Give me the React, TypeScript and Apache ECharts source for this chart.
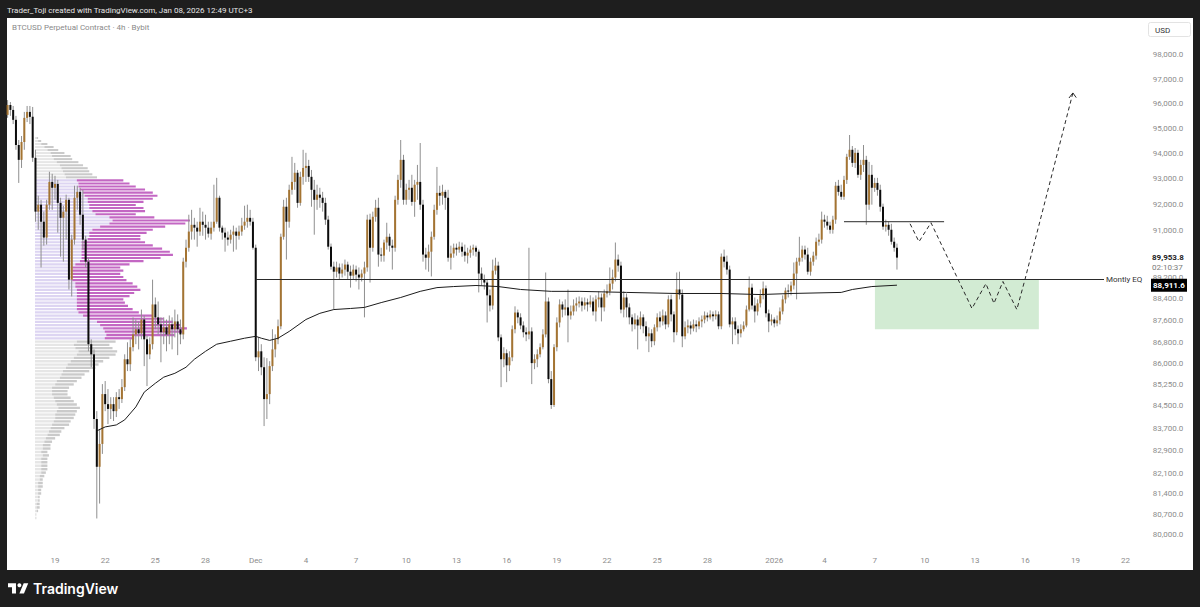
import React, { useEffect, useRef } from "react";
import * as echarts from "echarts";

// ---------- DATA ----------
const firstCandleUTC = Date.UTC(2025, 10, 16, 4); // Nov 16 2025, 04:00
const slotHours = 4;
const slotCount = 408; // candles + empty future space

const opens = [
  95550,95950,95750,95350,94340,93750,94460,95430,95670,95470,
  93830,91720,91990,91330,90720,91990,92880,92650,92800,92060,
  91480,91720,92180,89120,90640,92260,92490,91600,90640,89800,
  86720,86350,84020,82340,83140,84910,84550,84380,84550,84300,
  84800,84730,85160,86170,85990,86610,87080,87270,87120,87630,
  86900,86350,86720,88190,87710,87450,87160,87340,87080,87450,
  87270,87560,87270,87080,89800,90330,90950,91210,91100,90950,
  91330,91210,91100,90870,91100,91330,92260,91100,90910,90720,
  90640,90830,90950,90790,90950,91180,91330,91480,91330,90330,
  86240,86460,85880,84730,84910,85920,86530,86900,87380,90750,
  91910,91330,92570,92880,93240,92060,93080,93430,93510,93080,
  92570,92180,92380,92260,92060,91410,90370,89610,89420,89580,
  89350,89500,89690,89420,89270,89500,89310,89200,89350,89580,
  91410,90330,91520,91870,90070,90030,90530,90750,90410,90330,
  92180,92960,93750,92180,92570,92650,92100,92770,92880,91990,
  90070,89950,90180,90750,91790,92450,92340,92490,92260,89950,
  90110,90330,90260,90370,90180,90030,90140,90260,90330,90180,
  89350,89120,89010,88530,88150,89460,89650,86970,86170,86390,
  85950,86240,87270,87890,87710,87410,87160,87080,87190,86030,
  86170,86350,86610,87080,88300,85450,84520,86610,87520,88190,
  88000,88080,87780,87930,88150,88230,88300,88150,88270,88190,
  88300,87930,88380,88450,88080,88600,88680,88970,89200,89880,
  89650,88000,88450,88080,87710,87450,87630,87410,87710,87380,
  87010,87120,86830,87340,87710,87560,87780,87450,88380,87820,
  87160,88750,88560,87010,87340,87410,87300,87450,87380,87560,
  87630,87780,87710,87820,87750,87820,87380,89990,89800,89500,
  87450,87560,87270,87120,87270,87410,88000,88820,88150,87930,
  88230,88530,88790,87860,87560,87630,87490,87600,87930,88380,
  88710,88680,88900,89350,89800,89950,90260,90070,89420,89800,
  90030,90560,90640,91410,91330,91180,91020,91410,92730,92490,
  92300,92960,93870,94150,93630,94030,93160,93550,93750,91990,
  93160,92650,92840,92570,91910,91140,91210,91020,90560,90330,
];
const highs = [
  96150,96070,95910,95510,94540,94700,95670,95910,95910,95870,
  94150,92340,92180,91720,92180,93280,93200,93120,92960,92260,
  91950,92380,92260,90830,92730,92730,92650,92570,90790,89950,
  86900,86530,84300,83670,85270,85380,85090,84800,84800,84980,
  85090,85450,86350,86790,86900,87710,87630,87560,88000,87780,
  87050,86970,89120,88450,88300,87710,87710,87630,87780,87710,
  88000,87820,87630,89950,90640,91600,91790,91480,91330,91870,
  91720,91600,91330,91330,92770,93040,92340,91180,91100,90950,
  91020,91180,91100,91180,91480,91950,91990,91790,91480,90450,
  86970,86720,86240,86210,86100,87270,87080,87630,90870,92180,
  92260,92770,93870,93630,93350,93280,94150,94030,93750,93350,
  92960,92770,92650,92490,92260,91560,90490,89800,89800,89730,
  89730,89880,89800,89650,89690,89650,89580,89500,89800,91600,
  91640,91720,92180,92260,90330,90640,91290,90870,90640,92340,
  93160,94540,93950,92810,92960,93160,92960,93550,94420,92180,
  90330,90450,90950,91990,93470,92730,92770,92570,92570,90410,
  90490,90490,90560,90530,90450,90330,90410,90450,90410,90260,
  89580,89310,89120,88750,89880,89950,89800,87080,86610,86530,
  86460,87410,88120,88000,87860,87560,87340,90330,87340,86350,
  86530,86750,87270,89390,88450,85740,86720,87710,88380,88300,
  88380,88750,88150,88380,88450,88490,88450,88450,88410,88530,
  88450,88530,88680,88600,88750,88940,89580,89500,90530,90070,
  89800,88680,88600,88230,87820,87860,87780,87930,87820,87560,
  87340,87270,87450,87860,87930,88000,87930,88530,88560,87930,
  89390,89420,88750,87560,87630,87560,87630,87600,87710,87780,
  87930,87890,87970,87930,87970,87930,90110,90260,90030,89650,
  87710,87710,87410,87450,87560,88150,89240,88970,88450,88380,
  88750,89050,88900,88000,87820,87710,87780,88080,88530,88820,
  88940,89050,89770,89950,90750,90410,90410,90330,89950,90180,
  90720,90870,91720,91600,91560,91330,91560,92880,92960,92770,
  93120,93990,94740,94300,94220,94150,93750,94340,93910,93670,
  93550,93040,93040,92770,92030,91410,91330,91250,90720,90490,
];
const lows = [
  95430,95510,95180,94150,92840,93430,94150,95260,95180,93670,
  91330,91020,89580,90410,90450,91790,91790,92180,90910,89990,
  89800,90640,88750,88490,90450,91790,91210,90260,89580,86460,
  85880,83670,80560,81070,82790,84300,83840,84020,83950,84090,
  84380,84590,85020,85740,85740,86460,86720,86530,86900,85920,
  85200,86170,86530,87270,87080,86060,86720,86460,86720,86530,
  86970,86320,86720,86900,89580,90180,90640,90640,90370,90790,
  90790,90640,90720,90640,90950,91250,90950,90640,90180,90410,
  90490,90180,90260,90640,90790,91020,91100,91180,90260,86100,
  85740,85590,83770,84020,84550,85740,86240,86720,87270,90640,
  89880,91100,92380,92570,91870,91950,92770,92880,92880,91910,
  90830,91790,91870,91720,91210,90260,89500,88000,89200,89120,
  89200,89270,89120,88820,89120,89050,88750,89050,87710,89420,
  89010,90180,91330,89610,89800,89800,90260,90180,89500,90180,
  91990,92650,91990,91990,92180,91950,91520,92180,91790,89800,
  89500,89420,89240,90640,91600,91950,91990,91790,89800,89500,
  89950,90030,90140,89990,89800,89730,89950,90030,89990,88640,
  88900,88750,87520,87930,88000,89310,86830,85160,85880,85340,
  85740,86100,87120,87490,87270,86970,86830,86900,85270,85810,
  85880,86240,86530,86970,85300,84380,84450,86460,87340,87710,
  87780,86790,87630,87780,87930,88080,87930,88000,87930,88080,
  87780,87560,88080,87560,87930,88450,88530,88750,89050,89420,
  87860,87710,87710,87450,87190,87270,86530,87270,87120,86830,
  86430,86610,86680,87190,87340,87410,87270,87340,87560,86790,
  87050,88380,86610,86900,87120,87080,87190,87160,87270,87340,
  87490,87560,87630,87560,87630,87270,87270,89580,89310,87340,
  86720,87050,86720,86970,87190,87340,87930,88000,87520,87780,
  88080,88380,87710,87160,87410,87340,87380,87450,87820,88230,
  88450,88530,88750,88380,89650,89800,89880,89310,89270,89650,
  89880,90410,90490,91100,91020,90870,90870,91250,92340,92180,
  92180,92800,93750,93470,93430,93040,92960,93270,91210,91790,
  91990,92490,92340,91720,91020,90950,90790,90450,90180,89500,
];
const closes = [
  95950,95750,95350,94340,93750,94460,95430,95670,95470,93830,
  91720,91990,91330,90720,91990,92880,92650,92800,92060,91480,
  91720,92180,89120,90640,92260,92490,91600,90640,89800,86720,
  86350,84020,82340,83140,84910,84550,84380,84550,84300,84800,
  84730,85160,86170,85990,86610,87080,87270,87120,87630,86900,
  86350,86720,88190,87710,87450,87160,87340,87080,87450,87270,
  87560,87270,87080,89800,90330,90950,91210,91100,90950,91330,
  91210,91100,90870,91100,91330,92260,91100,90910,90720,90640,
  90830,90950,90790,90950,91180,91330,91480,91330,90330,86240,
  86460,85880,84730,84910,85920,86530,86900,87380,90750,91910,
  91330,92570,92880,93240,92060,93080,93430,93510,93080,92570,
  92180,92380,92260,92060,91410,90370,89610,89420,89580,89350,
  89500,89690,89420,89270,89500,89310,89200,89350,89580,91410,
  90330,91520,91870,90070,90030,90530,90750,90410,90330,92180,
  92960,93750,92180,92570,92650,92100,92770,92880,91990,90070,
  89950,90180,90750,91790,92450,92340,92490,92260,89950,90110,
  90330,90260,90370,90180,90030,90140,90260,90330,90180,89350,
  89120,89010,88530,88150,89460,89650,86970,86170,86390,85950,
  86240,87270,87890,87710,87410,87160,87080,87190,86030,86170,
  86350,86610,87080,88300,85450,84520,86610,87520,88190,88000,
  88080,87780,87930,88150,88230,88300,88150,88270,88190,88300,
  87930,88380,88450,88080,88600,88680,88970,89200,89880,89650,
  88000,88450,88080,87710,87450,87630,87410,87710,87380,87010,
  87120,86830,87340,87710,87560,87780,87450,88380,87820,87160,
  88750,88560,87010,87340,87410,87300,87450,87380,87560,87630,
  87780,87710,87820,87750,87820,87380,89990,89800,89500,87450,
  87560,87270,87120,87270,87410,88000,88820,88150,87930,88230,
  88530,88790,87860,87560,87630,87490,87600,87930,88380,88710,
  88680,88900,89350,89800,89950,90260,90070,89420,89800,90030,
  90560,90640,91410,91330,91180,91020,91410,92730,92490,92300,
  92960,93870,94150,93630,94030,93160,93550,93750,91990,93160,
  92650,92840,92570,91910,91140,91210,91020,90560,90330,89953.8,
];

const priceTicks = [80000, 80700, 81400, 82100, 82900, 83700, 84500, 85250, 86000, 86800, 87600, 88400, 89200, 91000, 92000, 93000, 94000, 95000, 96000, 97000, 98000];

// anchored VWAP readings (candle index -> price)
const vwapSlots = [32,35,39,42,46,49,53,56,60,64,67,71,75,80,85,89,91,94,97,101,107,112,117,123,128,134,141,148,154,160,168,176,184,195,205,222,240,256,270,281,299,303,310,319];
const vwapValues = [83600,83740,83810,83990,84450,84980,85300,85520,85660,85880,86170,86460,86720,86830,86940,87010,86940,86860,86940,87190,87630,87860,88000,88040,88080,88260,88450,88680,88820,88860,88900,88860,88750,88680,88680,88640,88600,88600,88560,88600,88640,88750,88860,88911.6];

// volume profile (rows of equal price height, relative volume)
const profileBase = 80500;
const profileStep = 120;
const valueAreaLow = 86860;
const valueAreaHigh = 92980;
const profileLight = [1,1,1,1,1,2,2,2,2,2, 2,3,3,4,4,4,4,4,5,4, 5,5,6,7,8,9,10,11,12,13, 13,14,15,14,13,12,11,11,11,13, 14,16,17,18,20,21,23,25,27,28, 26,25,27,45,46,45,44,42,40,35, 31,28,27,27,27,27,27,27,27,26, 26,24,24,24,24,24,26,29,30,30, 30,30,30,30,34,35,35,37,42,48, 50,48,39,37,35,35,34,34,32,31, 29,28,28,27,20,19,18,17,16,14, 12,11,10,8,6,4,2,1];
const profileDark = [0,0,1,2,2,1,1,2,2,3, 3,2,3,3,4,4,4,4,4,4, 5,5,5,6,8,8,9,11,11,12, 13,13,14,13,12,11,10,10,11,12, 13,14,15,17,19,20,21,23,25,25, 24,23,25,19,44,50,54,52,49,48, 45,39,36,33,31,30,34,37,41,40, 37,35,33,31,33,31,35,41,51,59, 57,52,46,41,34,33,37,39,42,49, 50,29,26,34,35,30,36,42,47,45, 42,37,33,30,20,18,17,17,15,14, 12,12,9,7,6,4,2,1];

// drawings
const monthlyEq = 89125;
const eqStartSlot = 89;
const shelfPrice = 91330;
const shelfSlots = [300, 335.9];
const zoneTop = 89125;
const zoneBottom = 87266;
const zoneSlots = [311.1, 369.9];
const projSlots = [323.7, 326.9, 331.2, 345.9, 350.9, 353.8, 357.0, 362.0, 364.9, 382.1];
const projPrices = [91250, 90560, 91290, 88040, 88970, 88230, 89050, 88000, 89120, 96440];
const arrowSlots = [380.7, 382.1, 383.3];
const arrowPrices = [96234, 96440, 96250];

const lastPrice = 89953.8;
const countdown = "02:10:37";
const vwapLast = 88911.6;

const MONTHS = ["Jan","Feb","Mar","Apr","May","Jun","Jul","Aug","Sep","Oct","Nov","Dec"];

// ---------- HELPERS ----------
const L = Math.log;
const FONT = "Roboto, 'Noto Sans', sans-serif";
const fmtPrice = (p: number) =>
  p.toLocaleString("en-US", { minimumFractionDigits: 1, maximumFractionDigits: 1 });

function slotLabel(i: number): string {
  const d = new Date(firstCandleUTC + i * slotHours * 3600 * 1000);
  const h = d.getUTCHours();
  const day = d.getUTCDate();
  const m = d.getUTCMonth();
  if (h !== 0 || day % 3 !== 1 || day >= 31) return "";
  if (day === 1 && m === 0) return String(d.getUTCFullYear());
  if (day === 1) return MONTHS[m];
  return String(day);
}

export default function App() {
  const ref = useRef<HTMLDivElement>(null);

  useEffect(() => {
    if (!ref.current) return;
    const chart = echarts.init(ref.current, null, { renderer: "svg" });

    const gridLeft = 6.2;
    const gridRight = 56.3;
    const gridTop = 18;
    const gridBottom = 61;
    const yMax = L(99545);
    const yMin = L(79628);

    const categories: string[] = [];
    for (let i = 0; i < slotCount; i++) categories.push("s" + i);
    const labelOf = (v: string) => slotLabel(Number(v.slice(1)));

    const candleData = opens.map((o, i) => [i, L(o), L(closes[i]), L(lows[i]), L(highs[i])]);

    const vwapData: (number | null)[] = new Array(slotCount).fill(null);
    vwapSlots.forEach((s, k) => (vwapData[s] = L(vwapValues[k])));

    const profileData = profileLight.map((a, k) => [
      L(profileBase + profileStep * k),
      L(profileBase + profileStep * (k + 1)),
      a,
      profileDark[k],
      profileBase + profileStep * (k + 0.5),
    ]);

    const tickLn = priceTicks.map(L);
    const profUnitPx = 1.55;
    const profMin = -(35 - gridLeft) / profUnitPx;
    const gridWidth = 1200 - gridLeft - gridRight;
    const profMax = profMin + gridWidth / profUnitPx;

    const option: any = {
      animation: false,
      backgroundColor: "#1e1e1e",
      textStyle: { fontFamily: FONT },
      grid: { left: gridLeft, right: gridRight, top: gridTop, bottom: gridBottom, containLabel: false },
      xAxis: [
        {
          type: "category",
          data: categories,
          boundaryGap: true,
          axisLine: { show: false },
          axisTick: { show: false },
          splitLine: { show: false },
          axisLabel: {
            interval: (_i: number, v: string) => labelOf(v) !== "",
            formatter: (v: string) => labelOf(v),
            color: "#8c8c8c",
            fontSize: 8,
            margin: 10,
            fontFamily: FONT,
          },
        },
        { type: "value", min: profMin, max: profMax, show: false },
        { type: "value", min: -0.5, max: slotCount - 0.5, show: false },
      ],
      yAxis: {
        type: "value",
        position: "right",
        min: yMin,
        max: yMax,
        axisLine: { show: false },
        axisTick: { show: false, customValues: tickLn },
        splitLine: { show: false },
        axisLabel: {
          customValues: tickLn,
          formatter: (v: number) => fmtPrice(Math.round(Math.exp(v) * 10) / 10),
          color: "#8c8c8c",
          fontSize: 8,
          margin: 9,
          align: "left",
          fontFamily: FONT,
        },
      },
      series: [
        {
          type: "custom",
          name: "profile",
          xAxisIndex: 1,
          yAxisIndex: 0,
          z: 1,
          data: profileData,
          encode: { x: [2], y: [0, 1] },
          renderItem: (_p: any, api: any) => {
            const lo = api.value(0), hi = api.value(1);
            const a = api.value(2), b = api.value(3), mid = api.value(4);
            const inVA = mid >= valueAreaLow && mid <= valueAreaHigh;
            const p0 = api.coord([0, lo]);
            const p1 = api.coord([a, hi]);
            const p2 = api.coord([a + b, hi]);
            const h = Math.max(1, p0[1] - p1[1] - 1);
            const y = p1[1];
            return {
              type: "group",
              children: [
                { type: "rect", shape: { x: p0[0], y, width: Math.max(0, p1[0] - p0[0]), height: h }, style: { fill: inVA ? "#ddd5f2" : "#e6e6e6" } },
                { type: "rect", shape: { x: p1[0], y, width: Math.max(0, p2[0] - p1[0]), height: h }, style: { fill: inVA ? "rgba(178,60,178,0.78)" : "#cacaca" } },
              ],
            };
          },
        },
        {
          type: "custom",
          name: "candles",
          xAxisIndex: 0,
          yAxisIndex: 0,
          z: 3,
          data: candleData,
          encode: { x: 0, y: [1, 2, 3, 4] },
          renderItem: (_p: any, api: any) => {
            const x = api.value(0);
            const o = api.value(1), c = api.value(2), lo = api.value(3), hi = api.value(4);
            const pO = api.coord([x, o]);
            const pC = api.coord([x, c]);
            const pL = api.coord([x, lo]);
            const pH = api.coord([x, hi]);
            const w = api.size([1, 0])[0] * 0.72;
            const up = c >= o;
            const top = Math.min(pO[1], pC[1]);
            const hgt = Math.max(1, Math.abs(pO[1] - pC[1]));
            return {
              type: "group",
              children: [
                { type: "line", shape: { x1: pH[0], y1: pH[1], x2: pL[0], y2: pL[1] }, style: { stroke: "#8f8f8f", lineWidth: 1 } },
                { type: "rect", shape: { x: pO[0] - w / 2, y: top, width: w, height: hgt }, style: { fill: up ? "#a47432" : "#0c0c0c" } },
              ],
            };
          },
        },
        {
          type: "line",
          name: "vwap",
          xAxisIndex: 0,
          yAxisIndex: 0,
          z: 4,
          data: vwapData,
          connectNulls: true,
          symbol: "none",
          lineStyle: { color: "#1c1c1c", width: 1 },
        },
        {
          type: "line",
          name: "eq",
          xAxisIndex: 2,
          yAxisIndex: 0,
          z: 4,
          data: [[eqStartSlot, L(monthlyEq)], [slotCount - 0.5, L(monthlyEq)]],
          symbol: "none",
          lineStyle: { color: "#2a2a2a", width: 1 },
        },
        {
          type: "line",
          name: "shelf",
          xAxisIndex: 2,
          yAxisIndex: 0,
          z: 4,
          data: shelfSlots.map((s) => [s, L(shelfPrice)]),
          symbol: "none",
          lineStyle: { color: "#2a2a2a", width: 1 },
        },
        {
          type: "line",
          name: "projection",
          xAxisIndex: 2,
          yAxisIndex: 0,
          z: 4,
          data: projSlots.map((s, k) => [s, L(projPrices[k])]),
          symbol: "none",
          lineStyle: { color: "#2a2a2a", width: 1, type: [4, 3] },
          markArea: {
            silent: true,
            itemStyle: { color: "rgba(76,175,80,0.25)" },
            data: [[{ coord: [zoneSlots[0], L(zoneTop)] }, { coord: [zoneSlots[1], L(zoneBottom)] }]],
          },
        },
        {
          type: "line",
          name: "arrow",
          xAxisIndex: 2,
          yAxisIndex: 0,
          z: 4,
          data: arrowSlots.map((s, k) => [s, L(arrowPrices[k])]),
          symbol: "none",
          lineStyle: { color: "#2a2a2a", width: 1 },
        },
      ],
    };

    chart.setOption(option);

    const yPix = (p: number) => chart.convertToPixel({ yAxisIndex: 0 } as any, L(p)) as number;
    const yLast = yPix(lastPrice);
    const yVwap = yPix(vwapLast);
    const yEq = yPix(monthlyEq);

    chart.setOption({
      graphic: [
        { type: "rect", z: -10, shape: { x: 7, y: 18, width: 1186, height: 552 }, style: { fill: "#ffffff" } },
        { type: "text", z: 100, x: 7, y: 10, style: { text: "Trader_Toji created with TradingView.com, Jan 08, 2026 12:49 UTC+3", fill: "#e6e6e6", fontSize: 8, fontFamily: FONT, verticalAlign: "middle" } },
        { type: "text", z: 100, x: 12, y: 27, style: { text: "BTCUSD Perpetual Contract · 4h · Bybit", fill: "#8a8a8a", fontSize: 8, fontFamily: FONT, verticalAlign: "middle" } },
        { type: "rect", z: 100, shape: { x: 1148.5, y: 22.5, width: 42, height: 14, r: 2 }, style: { fill: "#ffffff", stroke: "#e3e3e3", lineWidth: 1 } },
        { type: "text", z: 101, x: 1155, y: 30, style: { text: "USD", fill: "#333333", fontSize: 8, fontFamily: FONT, verticalAlign: "middle" } },
        { type: "text", z: 100, x: 1152, y: yLast, style: { text: fmtPrice(lastPrice), fill: "#222222", fontSize: 8, fontWeight: "bold", fontFamily: FONT, verticalAlign: "middle" } },
        { type: "text", z: 100, x: 1152, y: yLast + 10, style: { text: countdown, fill: "#7a7a7a", fontSize: 8, fontFamily: FONT, verticalAlign: "middle" } },
        { type: "rect", z: 100, shape: { x: 1151, y: yVwap - 6.5, width: 36, height: 13 }, style: { fill: "#000000" } },
        { type: "text", z: 101, x: 1153, y: yVwap, style: { text: fmtPrice(vwapLast), fill: "#ffffff", fontSize: 8, fontWeight: "bold", fontFamily: FONT, verticalAlign: "middle" } },
        { type: "text", z: 100, x: 1104, y: yEq, style: { text: "Montly EQ", fill: "#333333", fontSize: 8, fontFamily: FONT, verticalAlign: "middle", backgroundColor: "#ffffff", padding: [1, 2] } },
        {
          type: "group", z: 100, x: 8, y: 581, scaleX: 0.57, scaleY: 0.57,
          children: [
            { type: "polygon", shape: { points: [[0, 4], [14, 4], [14, 22], [7, 22], [7, 11], [0, 11]] }, style: { fill: "#ffffff" } },
            { type: "circle", shape: { cx: 20, cy: 7.5, r: 3.5 }, style: { fill: "#ffffff" } },
            { type: "polygon", shape: { points: [[20, 22], [27.5, 4], [35.5, 4], [28, 22]] }, style: { fill: "#ffffff" } },
          ],
        },
        { type: "text", z: 100, x: 33, y: 588, style: { text: "TradingView", fill: "#ffffff", fontSize: 14, fontWeight: 600, fontFamily: "Inter, Roboto, sans-serif", verticalAlign: "middle" } },
      ],
    });

    return () => chart.dispose();
  }, []);

  return (
    <div style={{ position: "fixed", left: 0, top: 0, width: 1200, height: 607, background: "#1e1e1e" }}>
      <div ref={ref} style={{ width: 1200, height: 607 }} />
    </div>
  );
}
